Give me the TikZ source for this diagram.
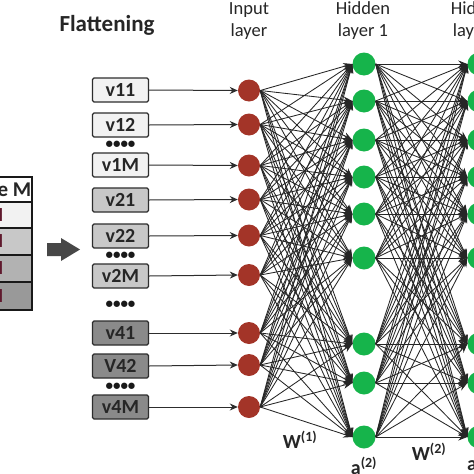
\documentclass[tikz,border=0pt]{standalone}
\usepackage{fontspec}
\setmainfont{Carlito}
\usetikzlibrary{arrows.meta}
\definecolor{inred}{RGB}{163,52,40}
\definecolor{hgreen}{RGB}{22,180,75}
\definecolor{lightfill}{RGB}{242,242,242}
\definecolor{midfill}{RGB}{200,200,200}
\definecolor{darkfill}{RGB}{138,138,138}
\definecolor{edge}{RGB}{45,45,45}
\begin{document}
\begin{tikzpicture}[x=1pt,y=-1pt,
  vbox/.style={draw=edge, line width=1.3pt, rounded corners=1.5pt, minimum width=56pt, minimum height=24pt, inner sep=0pt, font=\fontsize{20}{20}\selectfont\bfseries, text=black!85},
  inp/.style={circle, fill=inred, minimum size=22pt, inner sep=0pt},
  hid/.style={circle, fill=hgreen, minimum size=23pt, inner sep=0pt},
  conn/.style={draw=black!85, line width=0.85pt, -{Stealth[length=9pt,width=7pt]}},
  feed/.style={draw=edge, line width=1pt, -{Stealth[length=8pt,width=7pt]}},
  dots/.style={font=\fontsize{15}{15}\selectfont\bfseries, text=black!90, inner sep=0pt},
  lay/.style={align=center, font=\fontsize{18.5}{22}\selectfont, text=black!85},
  wlab/.style={font=\fontsize{20}{20}\selectfont\bfseries, text=black!85, inner sep=0pt},
  cell/.style={draw=black!90, line width=1.3pt},
  title/.style={font=\fontsize{23}{24}\selectfont\bfseries, text=black!85}
]
\useasboundingbox (0,0) rectangle (474,474);
\clip (0,0) rectangle (474,474);
\fill[white] (0,0) rectangle (474,474);

% left table (cut at picture edge)
\filldraw[cell, fill=white] (-10,177) rectangle (32,202);
\filldraw[cell, fill=lightfill] (-10,202) rectangle (32,228);
\filldraw[cell, fill=midfill] (-10,228) rectangle (32,255);
\filldraw[cell, fill=black!30] (-10,255) rectangle (32,282);
\filldraw[cell, fill=black!40] (-10,282) rectangle (32,310);
\node[anchor=east, font=\fontsize{21}{21}\selectfont\bfseries, text=black!85, inner sep=0pt] (hdr) at (31.5,190) {e M};
\foreach \yy/\nm in {215/c1,241.5/c2,268.5/c3,296/c4}
  \node[anchor=east, font=\fontsize{20}{20}\selectfont\bfseries, text={rgb,255:red,95;green,25;blue,45}, inner sep=0pt] (\nm) at (3.5,\yy) {M};

% big arrow
\fill[black!72] (47,243)--(61,243)--(61,238)--(80,249.5)--(61,261)--(61,256)--(47,256)--cycle;

% title
\node[title] (flat) at (107,25) {Flattening};

% layer titles
\node[lay] (tin) at (249,21) {Input\\layer};
\node[lay] (th1) at (363,21) {Hidden\\layer 1};
\node[lay] (th2) at (478,21) {Hidden\\layer 2};

% flattened boxes
\node[vbox, fill=lightfill] (b1) at (120.5,90) {v11};
\node[vbox, fill=lightfill] (b2) at (120.5,125) {v12};
\node[vbox, fill=lightfill] (b3) at (120.5,165) {v1M};
\node[vbox, fill=midfill] (b4) at (120.5,200) {v21};
\node[vbox, fill=midfill] (b5) at (120.5,236) {v22};
\node[vbox, fill=midfill] (b6) at (120.5,276) {v2M};
\node[vbox, fill=darkfill] (b7) at (120.5,333) {v41};
\node[vbox, fill=darkfill] (b8) at (120.5,366) {V42};
\node[vbox, fill=darkfill] (b9) at (120.5,407) {v4M};

\node[dots] (d1) at (120.5,145) {••••};
\node[dots] (d2) at (120.5,256) {••••};
\node[dots] (d3) at (120.5,305) {••••};
\node[dots] (d4) at (120.5,387) {••••};

% input layer
\foreach \i/\yy in {1/90.5,2/124.5,3/165.5,4/199.5,5/235.5,6/275,7/333,8/365,9/407}
  \node[inp] (r\i) at (249,\yy) {};

% hidden layers
\foreach \i/\yy in {1/64,2/101,3/140,4/177,5/214,6/258,7/344,8/383,9/437}{
  \node[hid] (g\i) at (364,\yy) {};
  \node[hid] (h\i) at (479,\yy) {};
}

% box -> input
\foreach \i in {1,...,9}
  \draw[feed] (b\i.east) -- (r\i.west);

% input -> hidden 1
\foreach \i in {1,...,9}
  \foreach \j in {1,...,9}
    \draw[conn] (r\i.east) -- (g\j.west);

% hidden 1 -> hidden 2
\foreach \i in {1,...,9}
  \foreach \j in {1,...,9}
    \draw[conn] (g\i.east) -- (h\j.west);

% weight labels
\node[wlab] (w1) at (300,440) {W\textsuperscript{(1)}};
\node[wlab] (a2) at (364,466) {a\textsuperscript{(2)}};
\node[wlab] (w2) at (429,452) {W\textsuperscript{(2)}};
\node[wlab, anchor=west] (a3) at (467,466) {a};
\end{tikzpicture}
\end{document}
